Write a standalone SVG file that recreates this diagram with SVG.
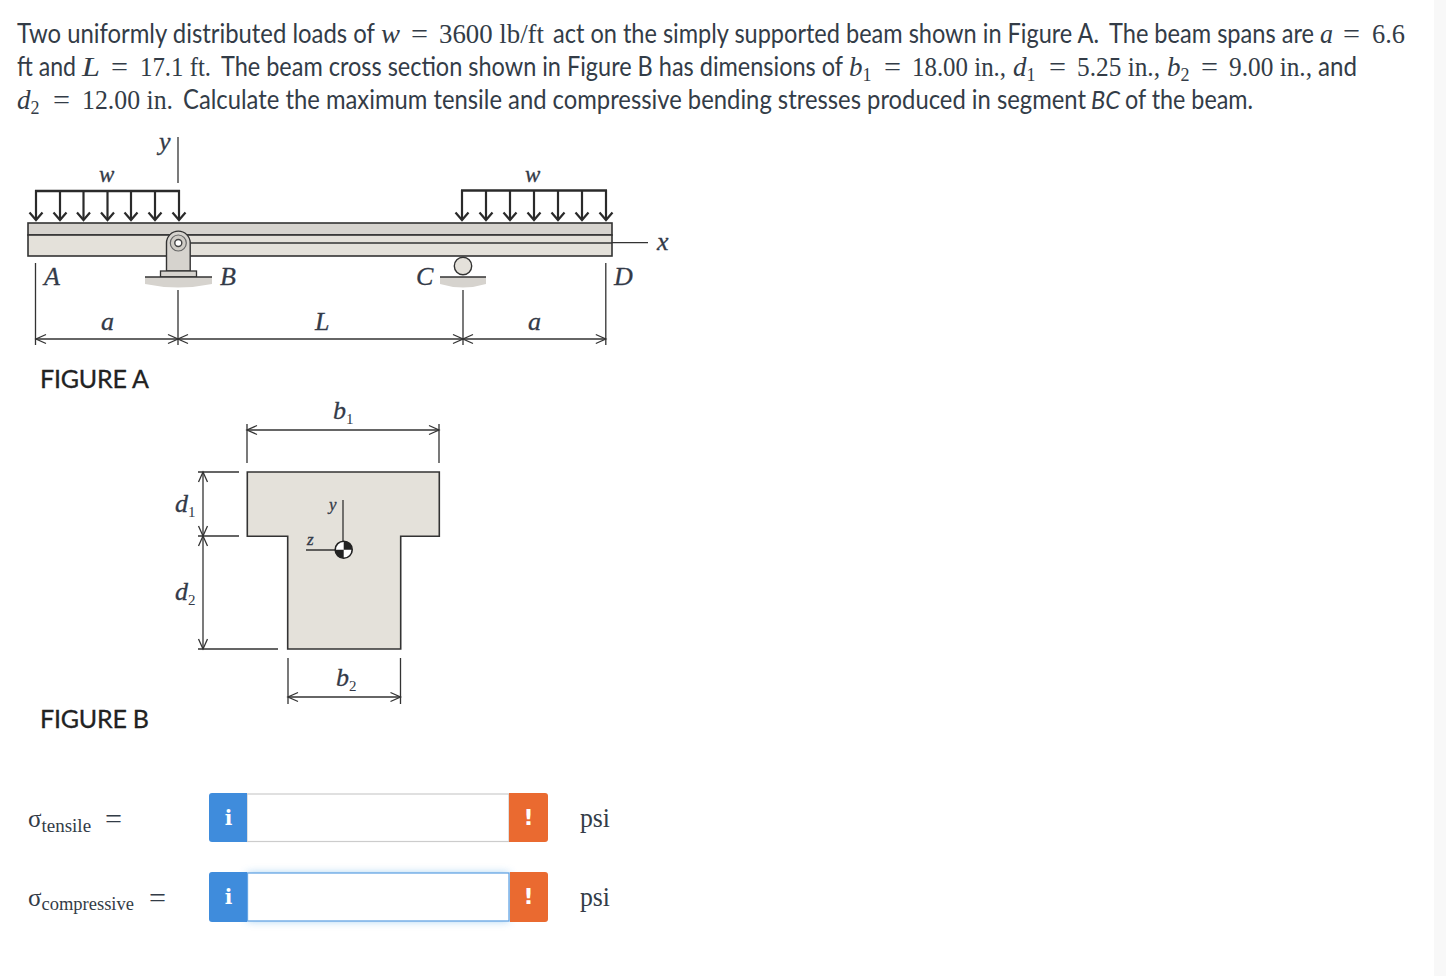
<svg xmlns="http://www.w3.org/2000/svg" width="1446" height="976" viewBox="0 0 1446 976">
<style>
text{fill:#333c47}
.l{font-family:Lato,"Liberation Sans",sans-serif;font-size:26px}
.li{font-family:Lato,"Liberation Sans",sans-serif;font-size:26px;font-style:italic}
.s{font-family:"Liberation Serif",serif;font-size:27px}
.si{font-family:"Liberation Serif",serif;font-size:27px;font-style:italic}
.sub{font-family:"Liberation Serif",serif;font-size:18px;font-style:normal}
.f{font-family:"Liberation Serif",serif;font-style:italic;font-size:26px;fill:#333a48;stroke:#333a48;stroke-width:.3}
.fs{font-family:"Liberation Serif",serif;font-size:15px;font-style:normal;fill:#333a48;stroke:none}
.cap{font-family:Lato,"Liberation Sans",sans-serif;font-size:25px;fill:#222;stroke:#222;stroke-width:.3}
.ln{fill:none;stroke:#333;stroke-width:1.300}
.load{fill:none;stroke:#2a2a2a;stroke-width:2.400}
.dim{fill:none;stroke:#333;stroke-width:1.300;marker-start:url(#o);marker-end:url(#o)}
.ar{fill:none;stroke:#2a2a2a;stroke-width:2.200;marker-end:url(#h)}
.box{fill:#e4e1da;stroke:#333;stroke-width:1.600}
.fl{fill:#d6d3ce;stroke:#333;stroke-width:1.600}
.gr{fill:#d6d3ce}
.ic{font-family:"DejaVu Serif",serif;font-weight:bold;font-size:20px;fill:#fff;text-anchor:middle}
.ex{font-family:"DejaVu Sans",sans-serif;font-weight:bold;font-size:22px;fill:#fff;text-anchor:middle}
</style>
<defs>
<marker id="o" viewBox="-12 -6 14 12" markerUnits="userSpaceOnUse" markerWidth="14" markerHeight="12" refX="0" refY="0" orient="auto-start-reverse"><path d="M-10 -4.500L0 0L-10 4.500" fill="none" stroke="#333" stroke-width="1.300"/></marker>
<marker id="h" viewBox="-10 -8 12 16" markerUnits="userSpaceOnUse" markerWidth="12" markerHeight="16" refX="0" refY="0" orient="auto"><path d="M-7.500 -6.500L0 0L-7.500 6.500" fill="none" stroke="#2a2a2a" stroke-width="2.200"/></marker>
<filter id="glow" x="-10%" y="-30%" width="120%" height="160%"><feGaussianBlur stdDeviation="4"/></filter>
</defs>
<rect width="1446" height="976" fill="#fff"/>
<rect x="1434" width="12" height="976" fill="#f8f8f8"/>

<g id="problem-text">
<text class="l" transform="translate(17 42.500) scale(.92 1)" textLength="389" lengthAdjust="spacingAndGlyphs">Two uniformly distributed loads of</text>
<text class="si" x="381" y="42.500" textLength="19" lengthAdjust="spacingAndGlyphs">w</text><text class="s" x="411" y="42.500" textLength="17" lengthAdjust="spacingAndGlyphs">=</text>
<text class="s" x="439" y="42.500" textLength="105" lengthAdjust="spacingAndGlyphs">3600 lb/ft</text>
<text class="l" transform="translate(553 42.500) scale(.92 1)" textLength="593.500" lengthAdjust="spacingAndGlyphs">act on the simply supported beam shown in Figure A.</text>
<text class="l" transform="translate(1109 42.500) scale(.92 1)" textLength="222.800" lengthAdjust="spacingAndGlyphs">The beam spans are</text>
<text class="si" x="1320" y="42.500" textLength="13" lengthAdjust="spacingAndGlyphs">a</text><text class="s" x="1343" y="42.500" textLength="17" lengthAdjust="spacingAndGlyphs">=</text><text class="s" x="1372" y="42.500" textLength="33" lengthAdjust="spacingAndGlyphs">6.6</text>

<text class="l" transform="translate(17 75.500) scale(.92 1)" textLength="64.100" lengthAdjust="spacingAndGlyphs">ft and</text>
<text class="si" x="82" y="75.500" textLength="18" lengthAdjust="spacingAndGlyphs">L</text><text class="s" x="111" y="75.500" textLength="17" lengthAdjust="spacingAndGlyphs">=</text>
<text class="s" x="140" y="75.500" textLength="71" lengthAdjust="spacingAndGlyphs">17.1 ft.</text>
<text class="l" transform="translate(221 75.500) scale(.92 1)" textLength="676.100" lengthAdjust="spacingAndGlyphs">The beam cross section shown in Figure B has dimensions of</text>
<text class="si" x="849" y="75.500">b<tspan class="sub" dy="5.500">1</tspan></text><text class="s" x="884" y="75.500" textLength="17" lengthAdjust="spacingAndGlyphs">=</text>
<text class="s" transform="translate(912 75.500) scale(.92 1)" textLength="102.200" lengthAdjust="spacingAndGlyphs">18.00 in.,</text>
<text class="si" x="1013" y="75.500">d<tspan class="sub" dy="5.500">1</tspan></text><text class="s" x="1049" y="75.500" textLength="17" lengthAdjust="spacingAndGlyphs">=</text>
<text class="s" transform="translate(1077 75.500) scale(.92 1)" textLength="90.200" lengthAdjust="spacingAndGlyphs">5.25 in.,</text>
<text class="si" x="1167" y="75.500">b<tspan class="sub" dy="5.500">2</tspan></text><text class="s" x="1201" y="75.500" textLength="17" lengthAdjust="spacingAndGlyphs">=</text>
<text class="s" transform="translate(1229 75.500) scale(.92 1)" textLength="90.200" lengthAdjust="spacingAndGlyphs">9.00 in.,</text>
<text class="l" transform="translate(1318 75.500) scale(.92 1)" textLength="42.400" lengthAdjust="spacingAndGlyphs">and</text>

<text class="si" x="17" y="108.500">d<tspan class="sub" dy="5.500">2</tspan></text><text class="s" x="53" y="108.500" textLength="17" lengthAdjust="spacingAndGlyphs">=</text>
<text class="s" x="82" y="108.500" textLength="91" lengthAdjust="spacingAndGlyphs">12.00 in.</text>
<text class="l" transform="translate(183 108.500) scale(.92 1)" textLength="981.500" lengthAdjust="spacingAndGlyphs">Calculate the maximum tensile and compressive bending stresses produced in segment</text>
<text class="li" x="1091" y="108.500" textLength="29" lengthAdjust="spacingAndGlyphs">BC</text>
<text class="l" transform="translate(1125 108.500) scale(.92 1)" textLength="139.100" lengthAdjust="spacingAndGlyphs">of the beam.</text>
</g>

<g id="beam">
<rect class="fl" x="28" y="223" width="584" height="12"/>
<rect class="box" x="28" y="235" width="584" height="21"/>
<path class="ln" d="M190 243H612"/>
</g>
<g id="support-b">
<path d="M166.500 271V243A11.800 11.800 0 0 1 190.200 243V271Z" fill="#d6d3ce" stroke="#333" stroke-width="1.400"/>
<circle cx="178.300" cy="243" r="8" fill="#cfccc6" stroke="#666" stroke-width="1.200"/>
<circle cx="178.300" cy="243" r="3.500" fill="#fff" stroke="#444" stroke-width="1.400"/>
<rect x="160.500" y="271" width="36" height="6" fill="#d6d3ce" stroke="#333" stroke-width="1.300"/>
<path class="gr" d="M145 277H212V284Q178 291 145 284Z"/>
<path class="ln" d="M145 277H212"/>
</g>
<g id="support-c">
<circle cx="463" cy="266" r="8.700" fill="#e4e1da" stroke="#333" stroke-width="1.400"/>
<path class="gr" d="M440 277H486V284Q463 291 440 284Z"/>
<path class="ln" d="M440 277H486"/>
</g>
<g id="load-left">
<path class="load" d="M35 191H180"/>
<path class="ar" d="M36 190V220"/><path class="ar" d="M60 191V220"/><path class="ar" d="M83.500 191V220"/><path class="ar" d="M107.500 191V220"/><path class="ar" d="M131 191V220"/><path class="ar" d="M155 191V220"/><path class="ar" d="M179 190V220"/>
</g>
<g id="load-right">
<path class="load" d="M461 190.500H607"/>
<path class="ar" d="M462 190V220"/><path class="ar" d="M486 191V220"/><path class="ar" d="M510 191V220"/><path class="ar" d="M534 191V220"/><path class="ar" d="M558 191V220"/><path class="ar" d="M582 191V220"/><path class="ar" d="M606 190V220"/>
</g>
<g id="connectors">
<path class="ln" d="M178 137V183"/>
<path class="ln" d="M612 242.700H648"/>
<path class="ln" d="M35.500 263V345M178 290V345M463 290V345M605.800 263V345"/>
<path class="dim" d="M36 339H178"/><path class="dim" d="M178 339H463"/><path class="dim" d="M463 339H605.800"/>
<path class="ln" d="M247 424V463M439 424V463M198 472H239M198 536H239M198 649H278M288 658V704M400.500 658V704"/>
<path class="dim" d="M247 430H439"/><path class="dim" d="M203 472V536"/><path class="dim" d="M203 536V649"/><path class="dim" d="M288 697H400.500"/>
</g>
<g id="figure-a-labels">
<text class="f" x="99" y="182" style="font-size:23px">w</text>
<text class="f" x="525" y="182" style="font-size:23px">w</text>
<text class="f" x="159" y="150">y</text>
<text class="f" x="44" y="285">A</text><text class="f" x="220" y="285">B</text><text class="f" x="416" y="285">C</text><text class="f" x="614" y="285">D</text>
<text class="f" x="101" y="330">a</text><text class="f" x="315" y="330">L</text><text class="f" x="528" y="330">a</text><text class="f" x="657" y="250">x</text>
<text class="cap" x="40" y="388" textLength="109">FIGURE A</text>
</g>
<g id="cross-section">
<path class="box" d="M247.300 472H439.300V536.300H400.700V649H287.700V536.300H247.300Z"/>
<path class="ln" d="M343 500V541M306 550H335" stroke-width="1.400"/>
<circle cx="343.700" cy="549.700" r="8.500" fill="#fff" stroke="#222" stroke-width="1.600"/>
<path d="M343.700 541.200A8.500 8.500 0 0 1 352.200 549.700H343.700ZM343.700 558.200A8.500 8.500 0 0 1 335.200 549.700H343.700Z" fill="#222"/>
<text class="f" x="329" y="510" style="font-size:17px">y</text>
<text class="f" x="307" y="545" style="font-size:17px">z</text>
<text class="f" x="333" y="419">b<tspan class="fs" dy="5">1</tspan></text>
<text class="f" x="175" y="512">d<tspan class="fs" dy="5">1</tspan></text>
<text class="f" x="175" y="600">d<tspan class="fs" dy="5">2</tspan></text>
<text class="f" x="336" y="686">b<tspan class="fs" dy="5">2</tspan></text>
<text class="cap" x="40" y="728" textLength="109">FIGURE B</text>
</g>
<g id="input-tensile">
<text style="font-family:'Liberation Serif',serif;font-size:25px" x="28" y="827">σ<tspan style="font-size:19px" dy="5">tensile</tspan></text>
<text class="s" x="105" y="828" textLength="17" lengthAdjust="spacingAndGlyphs">=</text>
<rect x="247" y="794" width="262" height="47.500" fill="#fff" stroke="#ccc" stroke-width="1.200"/>
<path d="M247 793H212A3 3 0 0 0 209 796V839A3 3 0 0 0 212 842H247Z" fill="#3f8cdc"/>
<path d="M509 793H545A3 3 0 0 1 548 796V839A3 3 0 0 1 545 842H509Z" fill="#ea6a30"/>
<text class="ic" x="228.500" y="825">i</text><text class="ex" x="528.500" y="825">!</text>
<text class="s" x="580" y="827" textLength="30" lengthAdjust="spacingAndGlyphs">psi</text>
</g>
<g id="input-compressive">
<text style="font-family:'Liberation Serif',serif;font-size:25px" x="28" y="906">σ<tspan style="font-size:18.500px" dy="4">compressive</tspan></text>
<text class="s" x="149" y="907" textLength="17" lengthAdjust="spacingAndGlyphs">=</text>
<rect x="247" y="873" width="262" height="48" fill="#66afe9" opacity=".6" filter="url(#glow)"/>
<rect x="247.500" y="873" width="261.500" height="48" fill="#fff" stroke="#66a5e4" stroke-width="1.300"/>
<path d="M247 872H212A3 3 0 0 0 209 875V919A3 3 0 0 0 212 922H247Z" fill="#3f8cdc"/>
<path d="M510 872H545A3 3 0 0 1 548 875V919A3 3 0 0 1 545 922H510Z" fill="#ea6a30"/>
<text class="ic" x="228.500" y="904">i</text><text class="ex" x="528.500" y="904">!</text>
<text class="s" x="580" y="906" textLength="30" lengthAdjust="spacingAndGlyphs">psi</text>
</g>
</svg>
